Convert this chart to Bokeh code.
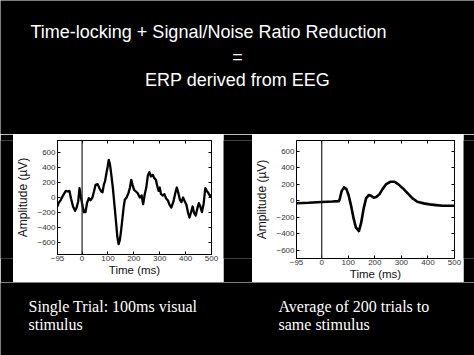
from bokeh.plotting import figure
from bokeh.layouts import column, row
from bokeh.models import Range1d, Label, Span, LinearAxis, FixedTicker
from bokeh.embed import file_html
from bokeh.resources import INLINE

# ---------------- data ----------------
x_ticks = [-95, 0, 100, 200, 300, 400, 500]
y_ticks = [-600, -400, -200, 0, 200, 400, 600]

single_t = [-95, -91, -82, -72, -63, -55, -49, -43, -35, -27, -21, -15, -10, -5, 1, 7, 13, 19, 26, 33,
            40, 46, 52, 60, 67, 74, 79, 84, 89, 94, 99, 103, 108, 113, 119, 125, 131, 136, 141, 146,
            151, 156, 161, 165, 172, 179, 185, 190, 195, 201, 208, 215, 223, 230, 236, 242, 248, 254,
            260, 266, 273, 279, 285, 291, 296, 300, 305, 311, 318, 324, 331, 338, 345, 353, 360, 366,
            372, 378, 384, 390, 397, 403, 409, 415, 421, 427, 433, 439, 445, 451, 457, 463, 470, 476,
            482, 488, 495, 500]
single_v = [-120, -76, -31, 36, 89, 80, 89, -9, -120, -178, -133, -53, 124, 13, -98, -196, -196, -76, -9, -36,
            0, 80, 169, 178, 124, 80, 71, 169, 222, 324, 413, 502, 436, 302, 124, -98, -320, -520, -622, -564,
            -431, -276, -120, -31, 0, 58, 133, 236, 169, 102, 80, 58, 0, 27, -89, 44, 133, 293,
            338, 280, 302, 258, 236, 147, 89, 133, 44, 27, 44, -9, -36, -98, -133, -53, 58, 133,
            58, -31, -62, 0, -53, -98, -196, -267, -196, -120, -209, -240, -151, -76, -120, -196, -76, 124,
            89, 58, 13, 36]

avg_t = [-95, -50, 0, 40, 65, 69, 75, 84, 93, 101, 110, 120, 129, 140, 148, 158, 167, 177, 186, 196,
         205, 217, 229, 243, 259, 274, 289, 306, 324, 342, 360, 384, 407, 431, 455, 479, 500]
avg_v = [-30, -25, -15, -10, -5, 36, 117, 162, 141, 69, -53, -214, -327, -368, -275, -93, 28, 69, 61, 36,
         44, 77, 141, 202, 230, 230, 198, 149, 89, 28, -12, -32, -44, -53, -61, -61, -61]

title_lines = ["Time-locking + Signal/Noise Ratio Reduction", "=", "ERP derived from EEG"]
caption_left = ["Single Trial: 100ms visual", "stimulus"]
caption_right = ["Average of 200 trials to", "same stimulus"]

SANS = "Liberation Sans"
SERIF = "Liberation Serif"


def blank(w, h):
    b = figure(width=w, height=h, output_backend="svg", toolbar_location=None,
               x_range=Range1d(0, w), y_range=Range1d(h, 0),
               background_fill_color="black", border_fill_color="black",
               min_border=0, outline_line_color=None)
    b.axis.visible = False
    b.grid.visible = False
    return b


def panel(w, h, t, v, yr, lw, left, right, top, bottom):
    p = figure(width=w, height=h, output_backend="svg", toolbar_location=None,
               x_range=Range1d(-95, 500), y_range=Range1d(-yr[0], yr[1]),
               background_fill_color="white", border_fill_color="white",
               min_border_left=left, min_border_right=right,
               min_border_top=top, min_border_bottom=bottom,
               outline_line_color="black", outline_line_width=1)
    p.grid.visible = False
    p.xaxis.ticker = FixedTicker(ticks=x_ticks)
    p.yaxis.ticker = FixedTicker(ticks=y_ticks)
    for ax in (p.xaxis[0], p.yaxis[0]):
        ax.major_tick_in = 3
        ax.major_tick_out = 0
        ax.minor_tick_line_color = None
        ax.major_label_text_font = SANS
        ax.major_label_text_font_size = "8px"
        ax.major_label_text_color = "#333333"
        ax.axis_label_text_font = SANS
        ax.axis_label_text_font_style = "normal"
        ax.axis_label_text_color = "#111111"
        ax.axis_line_color = "black"
        ax.major_tick_line_color = "black"
    p.xaxis.axis_label = "Time (ms)"
    p.xaxis.axis_label_text_font_size = "11.5px"
    p.xaxis.major_label_standoff = 1
    p.xaxis.axis_label_standoff = 0
    p.yaxis.axis_label = "Amplitude (µV)"
    p.yaxis.axis_label_text_font_size = "12px"
    p.yaxis.major_label_standoff = 2
    p.yaxis.axis_label_standoff = 4

    # MATLAB-style box: unlabeled inward ticks on top and right
    top_ax = LinearAxis(ticker=FixedTicker(ticks=x_ticks), major_label_text_font_size="1px",
                        major_label_text_color=None,
                        major_tick_in=3, major_tick_out=0, minor_tick_line_color=None,
                        major_label_standoff=0, axis_line_color="black")
    right_ax = LinearAxis(ticker=FixedTicker(ticks=y_ticks), major_label_text_font_size="1px",
                          major_label_text_color=None,
                          major_tick_in=3, major_tick_out=0, minor_tick_line_color=None,
                          major_label_standoff=0, axis_line_color="black")
    p.add_layout(top_ax, "above")
    p.add_layout(right_ax, "right")

    p.add_layout(Span(location=0, dimension="height", line_color="#222222", line_width=1.2))
    p.line(t, v, line_color="black", line_width=lw, line_join="round")
    return p


# ---------------- title ----------------
head = blank(474, 134)
head.add_layout(Label(x=30, y=31, text=title_lines[0], text_font=SANS, text_font_size="18px",
                      text_color="white", text_baseline="alphabetic", text_align="left"))
head.add_layout(Label(x=237, y=56, text=title_lines[1], text_font=SANS, text_font_size="18px",
                      text_color="white", text_baseline="alphabetic", text_align="center"))
head.add_layout(Label(x=237, y=79, text=title_lines[2], text_font=SANS, text_font_size="18px",
                      text_color="white", text_baseline="alphabetic", text_align="center"))

# ---------------- panels ----------------
p1 = panel(210, 146, single_t, single_v, (760, 760), 2.3, 35, 12, 6, 26)
p2 = panel(211, 148, avg_t, avg_v, (700, 730), 2.6, 35, 9, 6, 24)

mid = row(blank(13, 148), column(p1, blank(210, 2)), blank(29, 148), p2, blank(11, 148))

# ---------------- captions ----------------
foot = blank(474, 73)
for i, line in enumerate(caption_left):
    foot.add_layout(Label(x=28, y=24 + 18 * i, text=line, text_font=SERIF, text_font_size="16px",
                          text_color="white", text_baseline="alphabetic"))
for i, line in enumerate(caption_right):
    foot.add_layout(Label(x=278, y=24 + 18 * i, text=line, text_font=SERIF, text_font_size="16px",
                          text_color="white", text_baseline="alphabetic"))

page = column(head, mid, foot)

open("out.html", "w").write(file_html(page, INLINE))
